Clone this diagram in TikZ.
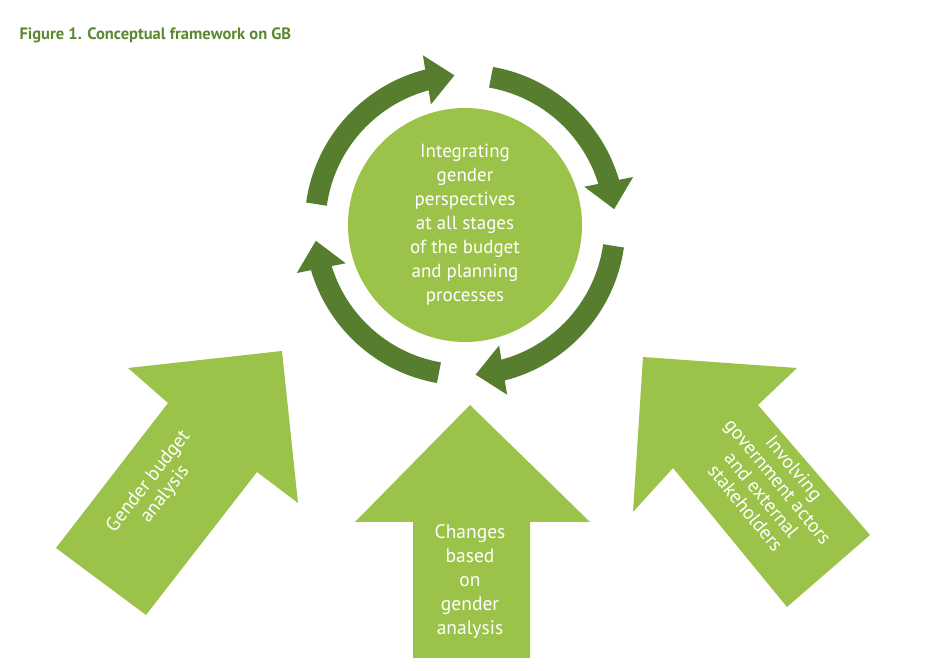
\documentclass[tikz,border=0pt]{standalone}
\usepackage{fontspec}
\setmainfont{PT Sans}
\usetikzlibrary{arrows.meta,bending}
\definecolor{ringc}{HTML}{577D2F}
\definecolor{lightg}{HTML}{9BC349}
\definecolor{titleg}{HTML}{5A8A2E}
\begin{document}
\begin{tikzpicture}[x=1pt,y=1pt,
  ring/.style={draw=ringc,line width=21pt,-{Triangle[length=28pt,width=48pt,flex]}},
  big/.style={fill=lightg},
  lbl/.style={text=white,align=center,font=\fontsize{19.5}{21}\selectfont}]
\useasboundingbox (0,0) rectangle (928,671);
\node[anchor=west,text=titleg,font=\bfseries\fontsize{16.5}{18}\selectfont] (title) at (16,636) {Figure 1. Conceptual framework on GB};
\node[circle,fill=lightg,minimum size=234pt,inner sep=0pt,lbl,font=\fontsize{19}{24}\selectfont] (c) at (465,446)
 {Integrating\\gender\\perspectives\\at all stages\\of the budget\\and planning\\processes};
\draw[ring] (465,446) ++(172:150) arc[start angle=172,end angle=94,radius=150];
\draw[ring] (465,446) ++(80:150) arc[start angle=80,end angle=6,radius=150];
\draw[ring] (465,446) ++(-8:150) arc[start angle=-8,end angle=-86,radius=150];
\draw[ring] (465,446) ++(260:150) arc[start angle=260,end angle=186,radius=150];
\fill[big] (282,320) -- (128,303) -- (168,268) -- (56,123) -- (146,56) -- (257,199) -- (298,168) -- cycle;
\fill[big] (470,266) -- (590,149) -- (530,149) -- (530,13) -- (413,13) -- (413,149) -- (355,149) -- cycle;
\fill[big] (643,314) -- (797,303) -- (758,266) -- (870,136) -- (787,64) -- (673,203) -- (633,159) -- cycle;
\node[lbl,rotate=52] (l) at (157,183) {Gender budget\\analysis};
\node[lbl,font=\fontsize{19.5}{24}\selectfont] (m) at (470,89) {Changes\\based\\on\\gender\\analysis};
\node[lbl,rotate=-50.6] (r) at (770,183) {Involving\\government actors\\and external\\stakeholders};
\end{tikzpicture}
\end{document}
